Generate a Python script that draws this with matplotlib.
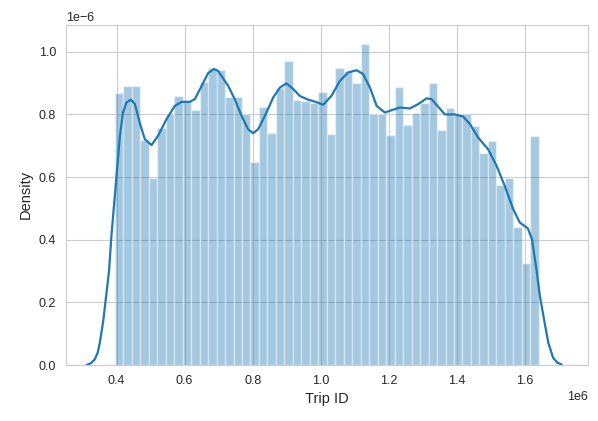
import matplotlib
matplotlib.use('Agg')
import matplotlib.pyplot as plt
import numpy as np
import seaborn as sns

# histogram: 50 bins between these limits (Trip ID), heights in 1e-6 density
bin_start = 0.395e6
bin_end = 1.640e6
bar_heights = [0.867, 0.892, 0.892, 0.717, 0.598, 0.758, 0.800, 0.858, 0.845, 0.813,
               0.902, 0.947, 0.943, 0.857, 0.857, 0.802, 0.648, 0.823, 0.742, 0.884,
               0.971, 0.847, 0.842, 0.837, 0.872, 0.736, 0.947, 0.938, 0.899, 1.024,
               0.800, 0.800, 0.735, 0.889, 0.766, 0.804, 0.838, 0.899, 0.750, 0.822,
               0.800, 0.800, 0.762, 0.676, 0.716, 0.575, 0.596, 0.441, 0.327, 0.731]

# kde curve: x in 1e6, density in 1e-6
kde_x = [0.312, 0.325, 0.336, 0.345, 0.351, 0.361, 0.369, 0.378, 0.385, 0.400,
         0.410, 0.419, 0.429, 0.442, 0.454, 0.468, 0.483, 0.503, 0.522, 0.547,
         0.571, 0.591, 0.615, 0.630, 0.650, 0.669, 0.686, 0.698, 0.708, 0.728,
         0.747, 0.767, 0.786, 0.801, 0.816, 0.836, 0.860, 0.880, 0.899, 0.919,
         0.938, 0.963, 0.982, 1.007, 1.031, 1.056, 1.080, 1.105, 1.124, 1.144,
         1.164, 1.188, 1.212, 1.232, 1.261, 1.286, 1.310, 1.325, 1.349, 1.364,
         1.394, 1.418, 1.438, 1.462, 1.491, 1.516, 1.540, 1.565, 1.584, 1.608,
         1.620, 1.633, 1.643, 1.658, 1.668, 1.682, 1.695, 1.707]
kde_y = [0.000, 0.006, 0.018, 0.040, 0.071, 0.141, 0.215, 0.300, 0.412, 0.604,
         0.732, 0.806, 0.838, 0.847, 0.833, 0.774, 0.721, 0.702, 0.732, 0.785,
         0.827, 0.840, 0.840, 0.849, 0.891, 0.932, 0.945, 0.939, 0.923, 0.891,
         0.849, 0.796, 0.753, 0.740, 0.753, 0.796, 0.854, 0.886, 0.899, 0.881,
         0.859, 0.847, 0.841, 0.831, 0.859, 0.907, 0.934, 0.941, 0.929, 0.886,
         0.827, 0.806, 0.815, 0.822, 0.819, 0.833, 0.851, 0.849, 0.819, 0.800,
         0.800, 0.793, 0.769, 0.726, 0.689, 0.636, 0.572, 0.497, 0.455, 0.436,
         0.401, 0.306, 0.221, 0.130, 0.071, 0.023, 0.007, 0.002]

sns.set_style('whitegrid')
plt.rcParams['font.family'] = ['Liberation Sans', 'DejaVu Sans']
plt.rcParams['text.color'] = '.15'
plt.rcParams['axes.labelcolor'] = '.15'
plt.rcParams['xtick.color'] = '.15'
plt.rcParams['ytick.color'] = '.15'

blue = '#1f77b4'

fig = plt.figure(figsize=(5.98, 4.21), dpi=100)
ax = fig.add_axes([0.110, 0.133, 0.873, 0.808])

edges = np.linspace(bin_start, bin_end, len(bar_heights) + 1)
heights = np.array(bar_heights) * 1e-6
ax.bar(edges[:-1], heights, width=np.diff(edges), align='edge',
       color=blue, alpha=0.4, edgecolor='white', linewidth=1.0)

ax.plot(np.array(kde_x) * 1e6, np.array(kde_y) * 1e-6, color=blue, lw=1.6,
        solid_joinstyle='round')

ax.set_xlim(0.251e6, 1.784e6)
ax.set_ylim(0, 1.086e-6)
ax.set_xticks(np.arange(0.4e6, 1.61e6, 0.2e6))
ax.set_yticks(np.arange(0, 1.01e-6, 0.2e-6))
ax.tick_params(labelsize=9)
ax.xaxis.get_offset_text().set_fontsize(9)
ax.yaxis.get_offset_text().set_fontsize(9)
ax.set_xlabel('Trip ID', fontsize=10.5)
ax.set_ylabel('Density', fontsize=10.5)
ax.set_axisbelow(True)

plt.savefig('out.png', dpi=100)
